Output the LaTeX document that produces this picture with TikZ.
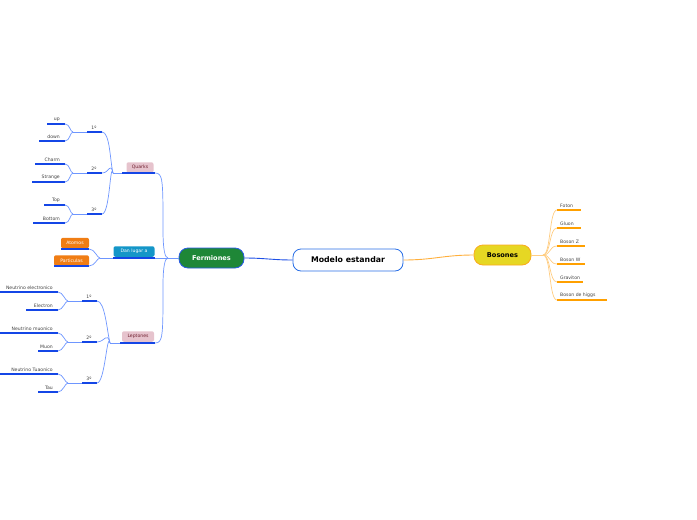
\documentclass[tikz,border=0pt]{standalone}
\usepackage{fontspec}
\setmainfont{DejaVu Sans}
\begin{document}
\begin{tikzpicture}[x=1pt,y=-1pt,
  cn/.style={draw=blue!45!cyan!30!white, line width=0.8pt},
  cnb/.style={draw={rgb,255:red,110;green,150;blue,255}, line width=0.7pt},
  ulb/.style={draw={rgb,255:red,20;green,70;blue,230}, line width=1.2pt},
  cno/.style={draw={rgb,255:red,255;green,205;blue,130}, line width=0.7pt},
  ulo/.style={draw={rgb,255:red,255;green,160;blue,0}, line width=1.2pt},
  lbl/.style={font=\fontsize{4.6}{5}\selectfont, text=black!75, inner sep=1pt},
  box/.style={rounded corners=2pt, font=\fontsize{4.6}{5}\selectfont, inner sep=0pt, minimum height=10.5pt}]
\useasboundingbox (0,0) rectangle (697,520);
\newcommand\link[3]{\draw[cnb] (#1) .. controls +(7,0) and +(-6,0) .. (#2) -- (#3);}
\newcommand\olink[3]{\draw[cno] (#1) -- (#2) .. controls +(6,0) and +(-7,0) .. (#3);}
% Central
\node[draw={rgb,255:red,40;green,110;blue,230}, fill=white, rounded corners=8pt, minimum width=110pt, minimum height=22pt, font=\bfseries\fontsize{7.8}{9}\selectfont, line width=0.8pt] (me) at (348,260) {Modelo estandar};
\node[draw={rgb,255:red,40;green,90;blue,230}, fill={rgb,255:red,30;green,135;blue,55}, text=white, rounded corners=9pt, minimum width=65pt, minimum height=20pt, font=\bfseries\fontsize{6.6}{8}\selectfont, line width=0.8pt] (fe) at (211.5,258) {Fermiones};
\node[draw={rgb,255:red,250;green,170;blue,30}, fill={rgb,255:red,230;green,215;blue,35}, rounded corners=9pt, minimum width=57pt, minimum height=20pt, font=\bfseries\fontsize{6.6}{8}\selectfont, line width=0.8pt] (bo) at (502.5,255) {Bosones};
\draw[draw={rgb,255:red,30;green,80;blue,230}, line width=0.9pt] (me.west) .. controls +(-20,0) and +(20,0) .. (fe.east);
\draw[draw={rgb,255:red,255;green,175;blue,60}, line width=0.9pt] (me.east) .. controls +(30,0) and +(-30,0) .. (bo.west);
% Bosones leaves
\coordinate (bb) at (543,255);
\draw[cno] (bo.east) -- (bb);
\foreach \t/\y/\e [count=\i] in {Foton/210/581,Gluon/228/581,Boson Z/246/585,Boson W/264/585,Graviton/282/583,Boson de higgs/300/607}{
  \coordinate (ba\i) at (557,\y);
  \coordinate (bz\i) at (\e,\y);
  \node[lbl, anchor=south west] (bl\i) at (559,\y-1) {\t};
  \draw[ulo] (ba\i) -- (bz\i);
  \draw[cno] (bb) .. controls +(8,0) and +(-8,0) .. (ba\i);
}
% Level 1 left
\coordinate (qa) at (113,173); \coordinate (qb) at (155,173);
\coordinate (da) at (100,258); \coordinate (db) at (155,258);
\coordinate (la) at (110,343); \coordinate (lb) at (155,343);
\node[box, fill={rgb,255:red,230;green,195;blue,205}, text={rgb,255:red,110;green,30;blue,45}, minimum width=27pt] (qu) at (140,167.5) {Quarks};
\node[box, fill={rgb,255:red,20;green,150;blue,200}, text=white, minimum width=41pt] (dl) at (134,251.5) {Dan lugar a};
\node[box, fill={rgb,255:red,230;green,195;blue,205}, text={rgb,255:red,110;green,30;blue,45}, minimum width=32pt] (le) at (138,336.5) {Leptones};
\draw[ulb] (122,173) -- (qb); \draw[ulb] (113,258) -- (db); \draw[ulb] (120,343) -- (lb);
\draw[cnb] (qa) -- (122,173); \draw[cnb] (da) -- (113,258); \draw[cnb] (la) -- (120,343);
\coordinate (fb) at (168,258);
\draw[cnb] (fb) -- (fe.west);
\draw[cnb] (qb) .. controls +(8,0) and +(0,-50) .. (163,230) .. controls +(0,20) and +(-3,0) .. (fb);
\draw[cnb] (db) -- (fb);
\draw[cnb] (lb) .. controls +(8,0) and +(0,50) .. (163,286) .. controls +(0,-20) and +(-3,0) .. (fb);
% Generations
\foreach \n/\y/\pa/\t in {q1/132/qa/1º,q2/173/qa/2º,q3/214/qa/3º}{
  \coordinate (\n a) at (73,\y); \coordinate (\n b) at (102,\y);
  \node[lbl, anchor=south] (\n) at (94,\y-1) {\t};
  \draw[cnb] (\n a) -- (87,\y); \draw[ulb] (87,\y) -- (\n b);
  \draw[cnb] (\n b) .. controls +(8,0) and +(-3,-12) .. (\pa);
}
\foreach \n/\y/\pa/\t in {l1/301/la/1º,l2/342/la/2º,l3/383/la/3º}{
  \coordinate (\n a) at (68,\y); \coordinate (\n b) at (97,\y);
  \node[lbl, anchor=south] (\n) at (89,\y-1) {\t};
  \draw[cnb] (\n a) -- (82,\y); \draw[ulb] (82,\y) -- (\n b);
  \draw[cnb] (\n b) .. controls +(8,0) and +(-3,-12) .. (\pa);
}
% Leaves left
\foreach \n/\t/\y/\xs/\p in {u1/up/124/47/q1a,u2/down/141/39/q1a,u3/Charm/164/35/q2a,u4/Strange/182/32/q2a,u5/Top/205/44/q3a,u6/Bottom/223/33/q3a}{
  \coordinate (\n a) at (\xs,\y); \coordinate (\n b) at (65,\y);
  \node[lbl, anchor=south east] (\n) at (61,\y-1) {\t};
  \draw[ulb] (\n a) -- (\n b);
  \draw[cnb] (\n b) .. controls +(5,0) and +(-3,0) .. (\p);
}
\foreach \n/\t/\y/\xs/\p in {v1/Neutrino electronico/292/0/l1a,v2/Electron/310/26/l1a,v3/Neutrino muonico/333/0/l2a,v4/Muon/351/38/l2a,v5/Neutrino Tuaonico/374/0/l3a,v6/Tau/392/38/l3a}{
  \coordinate (\n a) at (\xs,\y); \coordinate (\n b) at (58,\y);
  \node[lbl, anchor=south east] (\n) at (54,\y-1) {\t};
  \draw[ulb] (\n a) -- (\n b);
  \draw[cnb] (\n b) .. controls +(5,0) and +(-3,0) .. (\p);
}
% Dan lugar a children
\node[box, fill={rgb,255:red,240;green,125;blue,20}, text=white, minimum width=28pt] (at) at (75,243) {Atomos};
\node[box, fill={rgb,255:red,240;green,125;blue,20}, text=white, minimum width=35pt] (pa) at (71.5,260.5) {Particulas};
\coordinate (atb) at (89,249); \coordinate (pab) at (89,266);
\draw[ulb] (61,249) -- (atb); \draw[ulb] (54,266) -- (pab);
\draw[cnb] (atb) .. controls +(6,0) and +(-3,0) .. (da);
\draw[cnb] (pab) .. controls +(6,0) and +(-3,0) .. (da);
\end{tikzpicture}
\end{document}
